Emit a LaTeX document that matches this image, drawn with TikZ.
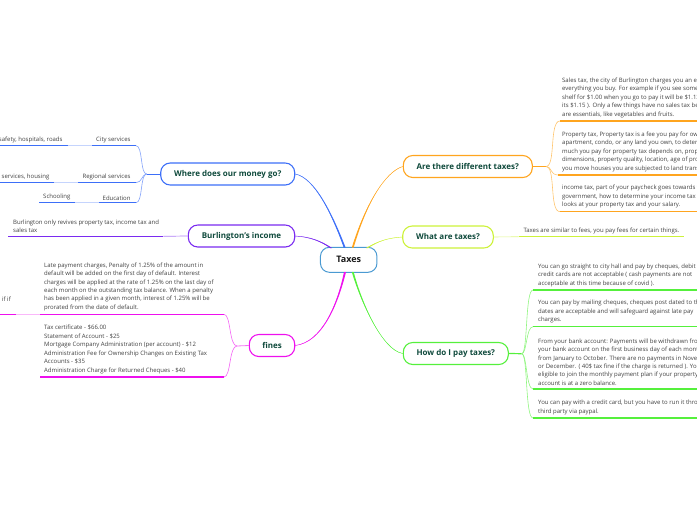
\documentclass[tikz,border=0pt]{standalone}
\usepackage{fontspec}
\setmainfont{Open Sans}
\definecolor{cblue}{HTML}{3D6FF8}
\definecolor{cviolet}{HTML}{7A2BF0}
\definecolor{cmag}{HTML}{EE10EE}
\definecolor{corange}{HTML}{FFA51F}
\definecolor{clime}{HTML}{CDF23A}
\definecolor{cgreen}{HTML}{55F03C}
\definecolor{croot}{HTML}{4A9AD2}
\definecolor{ink}{HTML}{0F4A3C}
\tikzset{
 x=1pt,y=-1pt,
 topic/.style={draw=#1,line width=1.1pt,rounded corners=9.5pt,fill=white,minimum height=22pt,inner sep=0pt,font=\fontsize{8}{10}\selectfont\bfseries,text=ink},
 txt/.style={anchor=south west,inner sep=0pt,align=left,font=\fontsize{6}{8.45}\selectfont,text=black!75},
 txtr/.style={txt,anchor=south east},
 bar/.style={line width=1.5pt,draw=#1},
 fadebar/.style={line width=1.5pt,draw=#1!30},
 bro/.style={line width=.6pt,draw=#1!65},
}
\begin{document}
\begin{tikzpicture}
\useasboundingbox (0,0) rectangle (697,520);
\clip (0,0) rectangle (697,520);
\node[draw=croot,line width=1pt,rounded corners=9pt,fill=white,minimum width=56.5pt,minimum height=25pt,inner sep=0pt,font=\fontsize{9}{11}\selectfont\bfseries,text=black!90] (root) at (348.7,259.8) {Taxes};
\node[topic=cblue,minimum width=134pt] (where) at (227.7,174) {Where does our money go?};
\node[topic=cviolet,minimum width=106.4pt] (inc) at (241.5,236) {Burlington's income};
\node[topic=cmag,minimum width=45.4pt] (fines) at (272,345.5) {fines};
\node[topic=corange,minimum width=129pt] (diff) at (467.8,166.5) {Are there different taxes?};
\node[topic=clime,minimum width=90.6pt] (what) at (448,237) {What are taxes?};
\node[topic=cgreen,minimum width=105pt] (how) at (455.8,353.5) {How do I pay taxes?};
% connectors into the centre, tapered towards the topics
\fill[cblue] (where.east) .. controls (315,178) and (332,215) .. (343.7,247.5) -- (345.6,247.5) .. controls (333,215) and (315,177) .. (where.east) -- cycle;
\fill[cviolet] (inc.east) .. controls (310,237) and (320,241) .. (330,248) -- (332,248) .. controls (321,240.5) and (310,236.5) .. (inc.east) -- cycle;
\fill[cmag] (fines.east) .. controls (322,342) and (337,305) .. (344,272) -- (346,272) .. controls (338,305) and (322,343) .. (fines.east) -- cycle;
\fill[corange] (diff.west) .. controls (385,172) and (365,205) .. (351.8,247.5) -- (353.7,247.5) .. controls (366,205) and (385,171) .. (diff.west) -- cycle;
\fill[clime] (what.west) .. controls (388,238) and (378,241) .. (366,248) -- (368,248) .. controls (379,241.5) and (388,237.5) .. (what.west) -- cycle;
\fill[cgreen] (how.west) .. controls (382,350) and (360,300) .. (351.8,272) -- (353.7,272) .. controls (361,300) and (382,351) .. (how.west) -- cycle;
\draw[cblue,line width=.4pt] (where.east) .. controls (315,178) and (332,215) .. (344.6,247.5);
\draw[cviolet,line width=.4pt] (inc.east) .. controls (310,237) and (320,241) .. (331,248);
\draw[cmag,line width=.4pt] (fines.east) .. controls (322,342) and (337,305) .. (345,272);
\draw[corange,line width=.4pt] (diff.west) .. controls (385,172) and (365,205) .. (352.7,247.5);
\draw[clime,line width=.4pt] (what.west) .. controls (388,238) and (378,241) .. (367,248);
\draw[cgreen,line width=.4pt] (how.west) .. controls (382,350) and (360,300) .. (352.7,272);
% where branches
\coordinate (w0) at (146.7,174);
\draw[cblue,line width=.8pt] (where.west) -- (w0);
\draw[bro=cblue] (w0) .. controls (140,174) and (143,145.7) .. (136,145.7);
\draw[bro=cblue] (w0) .. controls (142,174) and (142,182.7) .. (136,182.7);
\draw[bro=cblue] (w0) .. controls (140,174) and (143,202.7) .. (136,202.7);
\draw[bar=cblue] (136,145.7) -- (92,145.7);
\draw[fadebar=cblue] (92,145.7) -- (68,145.7);
\draw[bar=cblue] (68,145.7) -- (-1,145.7);
\draw[bar=cblue] (136,182.7) -- (78,182.7);
\draw[fadebar=cblue] (78,182.7) -- (54,182.7);
\draw[bar=cblue] (54,182.7) -- (-1,182.7);
\draw[bar=cblue] (136,202.7) -- (99,202.7);
\draw[fadebar=cblue] (99,202.7) -- (75,202.7);
\draw[bar=cblue] (75,202.7) -- (39,202.7);
\node[txtr] (t1) at (130.7,143.6) {City services};
\node[txtr] (t2) at (62.7,143.6) {safety, hospitals, roads};
\node[txtr] (t3) at (130.7,180.6) {Regional services};
\node[txtr] (t4) at (49.5,180.6) {services, housing};
\node[txtr] (t5) at (130.7,200.6) {Education};
\node[txtr] (t6) at (70.5,200.6) {Schooling};
% income
\draw[cviolet!60,line width=.7pt] (inc.west) -- (163.3,236.3);
\draw[bar=cviolet] (163.3,236.3) -- (8,236.3);
\node[txt] (t7) at (13,233) {Burlington only revives property tax, income tax and\\sales tax};
% fines
\coordinate (f0) at (237,346);
\draw[cmag!60,line width=.8pt] (fines.west) -- (f0);
\draw[bro=cmag] (f0) .. controls (229,346) and (231,314.3) .. (224,314.3);
\draw[bro=cmag] (f0) .. controls (229,346) and (231,377) .. (224,377);
\draw[bar=cmag] (224,314.3) -- (40,314.3);
\draw[fadebar=cmag] (40,314.3) -- (16,314.3);
\draw[bar=cmag] (16,314.3) -- (-1,314.3);
\draw[bar=cmag] (224,377) -- (40,377);
\node[txt] (t8) at (44,311) {Late payment charges, Penalty of 1.25\% of the amount in\\default will be added on the first day of default. Interest\\charges will be applied at the rate of 1.25\% on the last day of\\each month on the outstanding tax balance. When a penalty\\has been applied in a given month, interest of 1.25\% will be\\prorated from the date of default.};
\node[txt] (t9) at (44,373.7) {Tax certificate - \$66.00\\Statement of Account - \$25\\Mortgage Company Administration (per account) - \$12\\Administration Fee for Ownership Changes on Existing Tax\\Accounts - \$35\\Administration Charge for Returned Cheques - \$40};
\node[txtr] (t10) at (11,301.5) {if if};
% different
\coordinate (d0) at (546,166.5);
\draw[corange,line width=.8pt] (diff.east) -- (d0);
\draw[bro=corange] (d0) .. controls (556,166.5) and (549,121) .. (560,121);
\draw[bro=corange] (d0) .. controls (552,166.5) and (550,175) .. (558,175);
\draw[bro=corange] (d0) .. controls (556,166.5) and (549,211.7) .. (560,211.7);
\draw[bar=corange] (560,121) -- (698,121);
\draw[bar=corange] (558,175) -- (698,175);
\draw[bar=corange] (560,211.7) -- (698,211.7);
\node[txt] (t11) at (562,117.7) {Sales tax,  the city of Burlington charges you an e\\everything you buy. For example if you see some\\shelf for \$1.00 when you go to pay it will be \$1.13\\its \$1.15 ). Only a few things have no sales tax be\\are essentials, like vegetables and fruits.};
\node[txt] (t12) at (562,171.7) {Property tax, Property tax is a fee you pay for ow\\apartment, condo, or any land you own, to determ\\much you pay for property tax depends on, prope\\dimensions, property quality, location, age of pro\\you move houses you are subjected to land trans};
\node[txt] (t13) at (562,208.4) {income tax, part of your paycheck goes towards t\\government, how to determine your income tax B\\looks at your property tax and  your salary.};
% what
\draw[clime!60,line width=.6pt] (what.east) -- (518.7,236.7);
\draw[bar=clime] (518.7,236.7) -- (684,236.7);
\node[txt] (t14) at (523.3,234.4) {Taxes are similar to fees, you pay fees for certain things.};
% how
\coordinate (h0) at (521.7,353.7);
\draw[cgreen,line width=1.2pt] (how.east) -- (h0);
\draw[bro=cgreen] (h0) .. controls (528,353.7) and (525,290) .. (533,290);
\draw[bro=cgreen] (h0) .. controls (527,353.7) and (526,326.7) .. (533,326.7);
\draw[bro=cgreen] (h0) .. controls (527,353.7) and (526,389) .. (533,389);
\draw[bro=cgreen] (h0) .. controls (528,353.7) and (525,418) .. (533,418);
\draw[bar=cgreen] (533,290) -- (698,290);
\draw[bar=cgreen] (533,326.7) -- (698,326.7);
\draw[bar=cgreen] (533,389) -- (698,389);
\draw[bar=cgreen] (533,418) -- (698,418);
\node[txt] (t15) at (538,286.7) {You can go straight to city hall and pay by cheques, debit o\\credit cards are not acceptable  ( cash payments are not\\acceptable at this time because of covid ).};
\node[txt] (t16) at (538,323.4) {You can pay by mailing cheques, cheques post dated to th\\dates are acceptable and will safeguard against late pay\\charges.};
\node[txt] (t17) at (538,385.7) {From your bank account: Payments will be withdrawn fro\\your bank account on the first business day of each mont\\from January to October. There are no payments in Nove\\or December. ( 40\$ tax fine if the charge is returned ). You\\eligible to join the monthly payment plan if your property t\\account is at a zero balance.};
\node[txt] (t18) at (538,414.7) {You can pay with a credit card, but you have to run it throu\\third party via paypal.};
\end{tikzpicture}
\end{document}
